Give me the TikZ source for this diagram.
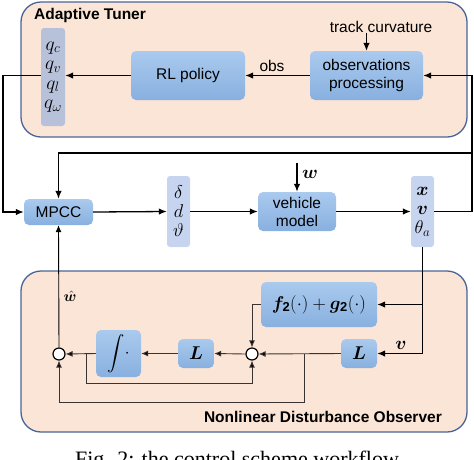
\RequirePackage{fix-cm}
\documentclass[tikz,border=0pt]{standalone}
\usepackage{amsmath,bm}
\usepackage{fontspec}
\setmainfont{Liberation Sans}
\newfontfamily\capfont{Liberation Serif}
\usetikzlibrary{arrows.meta}
\definecolor{peach}{HTML}{FBE5D6}
\definecolor{panelborder}{HTML}{4A6597}
\definecolor{blktop}{HTML}{AACAEE}
\definecolor{blkbot}{HTML}{88B0DF}
\definecolor{qfill}{HTML}{B7C2DA}
\definecolor{vfill}{HTML}{C6D4EF}
\definecolor{obsdark}{HTML}{3A3333}
\tikzset{
  panel/.style={draw=panelborder, line width=1.3pt, fill=peach, rounded corners=20pt},
  blk/.style={rounded corners=5pt, top color=blktop, bottom color=blkbot, draw=none,
    font=\fontsize{15.5}{18}\selectfont, align=center, inner sep=0pt},
  vecbox/.style={rounded corners=3pt, fill=#1, draw=none, inner sep=0pt, align=center,
    font=\fontsize{18.5}{19}\selectfont},
  wire/.style={line width=1.3pt, draw=black},
  arr/.style={wire, -{Latex[length=8pt,width=6.5pt]}},
  oline/.style={line width=0.9pt, draw=obsdark},
  oarr/.style={oline, -{Latex[length=7pt,width=6pt,fill=black]}},
  sumj/.style={circle, draw=black, fill=white, line width=1.2pt, minimum size=12pt, inner sep=0pt},
  ptitle/.style={font=\bfseries\fontsize{15.5}{18}\selectfont, inner sep=0pt},
  lbl/.style={font=\fontsize{15.5}{18}\selectfont, inner sep=0pt},
  mlbl/.style={font=\fontsize{18.5}{20}\selectfont, inner sep=0pt},
}
\begin{document}
\begin{tikzpicture}[x=1pt,y=-1pt]
\useasboundingbox (0,0) rectangle (474,459);
% panels
\path[panel] (21,2) rectangle (467,137);
\path[panel] (21,271) rectangle (467,432);
\node[ptitle, anchor=west] (tAT) at (34,15) {Adaptive Tuner};
\node[ptitle, anchor=east] (tNDO) at (442,417) {Nonlinear Disturbance Observer};
% top panel blocks
\node[vecbox=qfill, minimum width=24pt, minimum height=98pt, font=\fontsize{19.5}{19.5}\selectfont] (qbox) at (53,77)
  {$q_c$\\$q_v$\\$q_l$\\$q_\omega$};
\node[blk, minimum width=114pt, minimum height=49pt] (rl) at (188,75.5) {RL policy};
\node[blk, minimum width=113pt, minimum height=49pt] (obs) at (366.5,75.5) {observations\\processing};
\node[lbl] (tc) at (381,27) {track curvature};
% main loop blocks
\node[blk, minimum width=69pt, minimum height=26pt] (mpcc) at (58.5,212) {MPCC};
\node[vecbox=vfill, minimum width=23pt, minimum height=71pt] (ctrl) at (178.5,211.5)
  {$\delta$\\$d$\\$\vartheta$};
\node[blk, minimum width=78pt, minimum height=39pt] (veh) at (297,211.5) {vehicle\\model};
\node[vecbox=vfill, minimum width=23pt, minimum height=71pt] (state) at (422.5,211.5)
  {$\bm{x}$\\$\bm{v}$\\$\theta_a$};
% observer blocks
\node[blk, minimum width=116pt, minimum height=45pt, font=\fontsize{18.5}{20}\selectfont] (fg) at (319,304.5)
  {$\bm{f}_{\mathbf{2}}(\cdot)+\bm{g}_{\mathbf{2}}(\cdot)$};
\node[blk, minimum width=36pt, minimum height=29pt, font=\fontsize{18.5}{20}\selectfont] (Lr) at (359,353.5) {$\bm{L}$};
\node[blk, minimum width=36pt, minimum height=29pt, font=\fontsize{18.5}{20}\selectfont] (Ll) at (196,353.5) {$\bm{L}$};
\node[blk, minimum width=45pt, minimum height=47pt, font=\fontsize{17}{20}\selectfont] (int) at (118.5,353.5) {$\displaystyle\int\!\cdot$};
\node[sumj] (sR) at (252,354) {};
\node[sumj] (sL) at (59,354) {};
% helper coordinates
\coordinate (Lx) at (3,0);
\coordinate (Rx) at (472,0);
\coordinate (Rtop) at (472,153);
\coordinate (win) at (297,163);
\coordinate (b1) at (86,354);
\coordinate (b2) at (304,354);
\coordinate (y383) at (0,383);
\coordinate (y402) at (0,402);
% top panel wires
\draw[arr] (obs.west) -- (rl.east);
\node[lbl] (lobs) at (272,66) {obs};
\draw[arr] (rl.west) -- (qbox.east |- rl.west);
\draw[arr, line width=1pt] (tc.south -| obs.north) -- (obs.north);
% outer loops
\draw[arr] (qbox.west |- rl.west) -- (rl.west -| Lx) |- (mpcc.west);
\draw[arr] (state.east) -- (state.east -| Rx) |- (obs.east);
\draw[arr] (Rtop) -| (mpcc.north);
% main chain
\draw[arr] (mpcc.east) -- (ctrl.west);
\draw[arr] (ctrl.east) -- (veh.west);
\draw[arr] (veh.east) -- (state.west);
\draw[arr] (win) -- (veh.north);
\node[mlbl] (lw) at (310,174) {$\bm{w}$};
% observer wires
\draw[arr] (state.south) |- (Lr.east);
\draw[arr] (state.south |- fg.east) -- (fg.east);
\node[mlbl] (lv) at (401,345) {$\bm{v}$};
\draw[oarr] (Lr.west) -- (sR.east);
\draw[oarr] (fg.west) -| (sR.north);
\draw[oarr] (sR.west) -- (Ll.east);
\draw[oarr] (Ll.west) -- (int.east);
\draw[oarr] (int.west) -- (sL.east);
\draw[oarr] (b1) -- (b1 |- y383) -| (sR.south);
\draw[oarr] (b2) -- (b2 |- y402) -| (sL.south);
\draw[oarr, draw=black] (sL.north) -- (mpcc.south);
\node[mlbl, font=\fontsize{15}{17}\selectfont] (lwh) at (70,296) {$\hat{\bm{w}}$};
% caption (cut by the frame)
\node[font=\capfont\fontsize{22}{24}\selectfont, anchor=base, inner sep=0pt] (cap) at (237,466.5)
  {Fig. 2: the control scheme workflow};
\end{tikzpicture}
\end{document}
